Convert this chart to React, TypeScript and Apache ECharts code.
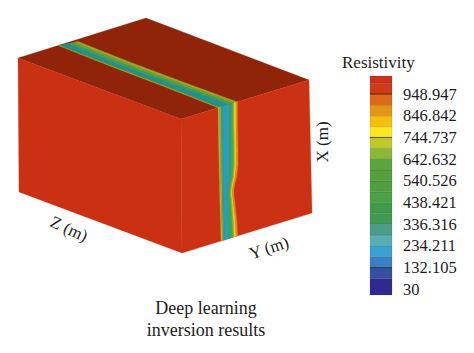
import React, { useEffect, useRef } from "react";
import * as echarts from "echarts";

const W = 474, H = 353;
const FONT = '"Liberation Serif", serif';

// ---- block faces
const topFace = [[146, 18], [309, 80], [181, 119], [18, 58]];
const frontFace = [[18, 58], [181, 119], [182, 253], [19, 192]];
const sideFace = [[181, 119], [309, 80], [312, 213], [182, 253]];
const TOP_COLOR = "#8f2409";
const FRONT_COLOR = "#c93112";
const SIDE_COLOR = "#ca3213";

// ---- conductive stripe on the side face: boundaries top to bottom
const sideRowsY = [125, 150, 165, 177, 184, 190, 195, 200, 223];
const sideEnds = [
  [[218, 107.7], [221, 241]],
  [[219.5, 107.2], [222.2, 240.6]],
  [[221, 106.8], [223.3, 240.3]],
  [[222.5, 106.3], [224.5, 240]],
  [[229.5, 104.2], [228, 238.8]],
  [[232.5, 103.3], [232.5, 237.4]],
  [[234, 102.8], [234, 236.9]],
  [[236, 102.2], [236, 236.3]],
  [[237.5, 101.8], [237.5, 235.8]],
];
const sideRowsX = [
  [218.3, 218.8, 219, 219.3, 219.5, 219.6, 219.7, 219.8, 220.6],
  [219.8, 220.2, 220.4, 220.6, 220.8, 220.9, 221, 221.1, 221.8],
  [221.2, 221.6, 221.8, 222, 222.1, 222.2, 222.2, 222.3, 223],
  [222.7, 223, 223.2, 223.4, 223.5, 223.6, 223.6, 223.7, 224.2],
  [229.5, 229.5, 229.5, 229.2, 228.6, 228.2, 228, 228, 228],
  [232.5, 233, 233, 232.3, 231, 230, 229.9, 230.4, 232],
  [234, 234.5, 234.5, 233.6, 232, 231, 231, 231.8, 233.5],
  [236, 236.5, 236.5, 235.2, 233.4, 232.4, 232.4, 233.2, 235.5],
  [237.5, 238, 238, 236.6, 234.8, 233.8, 233.8, 234.6, 237],
];
const sideBandColors = ["#c9a92c", "#7fb63c", "#3aa08c", "#27a0b6", "#35a36c", "#74b43a", "#dcd126", "#e78a22"];

// ---- the same stripe crossing the top face: boundaries back to front
const topStripe = [
  [[58, 45.5], [111, 66.5], [165, 87], [218, 107.7]],
  [[59.5, 45.2], [113, 66.1], [167, 86.5], [219.5, 107.3]],
  [[61, 44.8], [115, 65.6], [169, 86], [221.5, 106.7]],
  [[67, 43.7], [120, 65], [174, 85], [228, 104.6]],
  [[71, 43], [124, 64.3], [178, 84.2], [232, 103.6]],
  [[74.5, 42.3], [127.5, 63.4], [181, 83.4], [235, 102.7]],
  [[78, 41.5], [131, 62.5], [184.5, 82.5], [237.5, 102]],
];
const topBandColors = ["#8fa92c", "#3d9c5e", "#1c929a", "#35a06a", "#5fa63c", "#9aa52c"];

// ---- colour scale
const scaleTicks = [30, 132.105, 234.211, 336.316, 438.421, 540.526, 642.632, 744.737, 846.842, 948.947];
const scaleLevels = [3, 81, 132.105, 183.2, 234.211, 285.3, 336.316, 387.4, 438.421, 489.5, 540.526, 591.6, 642.632, 693.7, 744.737, 795.8, 846.842, 897.9, 948.947, 1000, 1034];
const scaleColors = [
  "#2e2a90", "#35509f", "#3a80c8", "#3aa2d2", "#58aeb4", "#4a9e88", "#3f9a55", "#3f9a4a", "#4da045", "#4f9f40",
  "#55a03e", "#5aa540", "#8cb53a", "#c0c92c", "#fde81e", "#f3c010", "#e49515", "#dd6a1a", "#cf3a18", "#cc3018",
];
const scaleDarkLevels = [132.105, 744.737, 948.947];

// ---- texts
const scaleTitle = "Resistivity";
const captionLines = ["Deep learning", "inversion results"];
const axisNotes = [
  { text: "Z (m)", x: 69, y: 229, angle: -25 },
  { text: "Y (m)", x: 269, y: 248, angle: 18 },
  { text: "X (m)", x: 322, y: 142, angle: 90 },
];

type Poly = { pts: number[][]; color: string };

const sideBoundary = (i: number) => [
  sideEnds[i][0],
  ...sideRowsX[i].map((x, r) => [x, sideRowsY[r]]),
  sideEnds[i][1],
];
const bandPoly = (a: number[][], b: number[][], color: string): Poly => ({
  pts: [...a, ...[...b].reverse()],
  color,
});

const polys: Poly[] = [
  { pts: topFace, color: TOP_COLOR },
  { pts: frontFace, color: FRONT_COLOR },
  { pts: sideFace, color: SIDE_COLOR },
  ...topBandColors.map((c, i) => bandPoly(topStripe[i], topStripe[i + 1], c)),
  ...sideBandColors.map((c, i) => bandPoly(sideBoundary(i), sideBoundary(i + 1), c)),
];

export default function App() {
  const ref = useRef<HTMLDivElement>(null);
  useEffect(() => {
    const chart = echarts.init(ref.current!, undefined, { renderer: "svg" });
    chart.setOption({
      animation: false,
      backgroundColor: "#ffffff",
      grid: [
        { left: 0, top: 0, width: W, height: H },
        { left: 370, top: 76, width: 22, height: 219 },
      ],
      xAxis: [
        { type: "value", gridIndex: 0, min: 0, max: W, show: false },
        { type: "value", gridIndex: 1, min: 0, max: 1, show: false },
      ],
      yAxis: [
        { type: "value", gridIndex: 0, min: 0, max: H, inverse: true, show: false },
        {
          type: "value",
          gridIndex: 1,
          min: scaleLevels[0],
          max: scaleLevels[scaleLevels.length - 1],
          position: "right",
          splitLine: { show: false },
          axisLine: { show: false },
          axisTick: { show: false },
          axisLabel: {
            customValues: scaleTicks,
            formatter: (v: number) => String(v),
            color: "#1c1c1c",
            fontFamily: FONT,
            fontSize: 16.5,
            margin: 11,
          },
        },
      ],
      series: [
        {
          type: "custom",
          xAxisIndex: 0,
          yAxisIndex: 0,
          clip: false,
          silent: true,
          data: polys.map((p) => p.pts[0]),
          renderItem: (params: any, api: any) => {
            const p = polys[params.dataIndex];
            return {
              type: "polygon",
              shape: { points: p.pts.map((q) => api.coord(q)) },
              style: { fill: p.color, stroke: p.color, lineWidth: 0.3 },
            };
          },
        },
        {
          type: "custom",
          xAxisIndex: 1,
          yAxisIndex: 1,
          silent: true,
          data: scaleColors.map((_, i) => [0, scaleLevels[i], scaleLevels[i + 1]]),
          encode: { x: 0, y: [1, 2] },
          renderItem: (params: any, api: any) => {
            const a = api.coord([0, api.value(1)]);
            const b = api.coord([1, api.value(2)]);
            return {
              type: "rect",
              shape: { x: a[0], y: b[1], width: b[0] - a[0], height: a[1] - b[1] },
              style: {
                fill: scaleColors[params.dataIndex],
                stroke: "rgba(50,50,30,0.22)",
                lineWidth: 0.6,
              },
            };
          },
        },
        {
          type: "custom",
          xAxisIndex: 1,
          yAxisIndex: 1,
          silent: true,
          data: scaleDarkLevels.map((v) => [0, v]),
          renderItem: (_: any, api: any) => {
            const a = api.coord([0, api.value(1)]);
            const b = api.coord([1, api.value(1)]);
            return {
              type: "line",
              shape: { x1: a[0], y1: a[1], x2: b[0], y2: b[1] },
              style: { stroke: "rgba(45,40,15,0.75)", lineWidth: 1 },
            };
          },
        },
      ],
      graphic: [
        {
          type: "text",
          x: 342,
          y: 62,
          style: { text: scaleTitle, fontFamily: FONT, fontSize: 17, fill: "#1c1c1c", textAlign: "left", textVerticalAlign: "middle" },
        },
        ...captionLines.map((t, i) => ({
          type: "text",
          x: 206,
          y: 308 + i * 22,
          style: { text: t, fontFamily: FONT, fontSize: 18, fill: "#1c1c1c", textAlign: "center", textVerticalAlign: "middle" },
        })),
        ...axisNotes.map((n) => ({
          type: "text",
          x: n.x,
          y: n.y,
          rotation: (n.angle * Math.PI) / 180,
          style: { text: n.text, fontFamily: FONT, fontSize: 17, fill: "#1c1c1c", textAlign: "center", textVerticalAlign: "middle" },
        })),
      ],
    });
    return () => chart.dispose();
  }, []);
  return <div ref={ref} style={{ position: "fixed", left: 0, top: 0, width: W, height: H }} />;
}
